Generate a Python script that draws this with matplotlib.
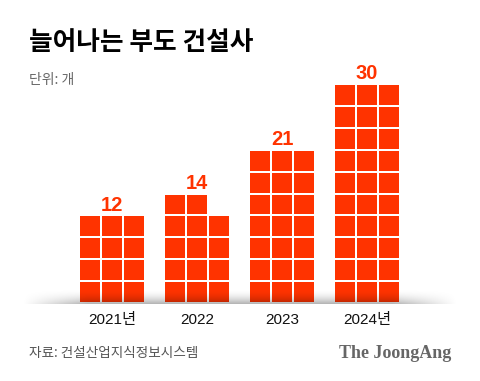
import numpy as np
import matplotlib
matplotlib.use('Agg')
import matplotlib.pyplot as plt

plt.rcParams['font.family'] = ['Noto Sans CJK KR', 'DejaVu Sans']

#data
years = ['2021년', '2022', '2023', '2024년']
counts = [12, 14, 21, 30]

red = '#ff3300'
W, H = 480, 381

fig = plt.figure(figsize=(W/100, H/100), dpi=100)
fig.patch.set_facecolor('white')

#main axes: x in category units (85 px apart, first at 112 px), y in block rows (22 px each)
base = 304
row_px = 21.9
top_px = 40
ax = fig.add_axes([0, (H-base)/H, 1, (base-top_px)/H])
ax.set_xlim(-112/85, (W-112)/85)
ax.set_ylim(0, (base-top_px)/row_px)
ax.axis('off')

pitch = 22/85
bw = 20/85
for i, v in enumerate(counts):
    k = np.arange(v)
    rows = k // 3
    cols = k % 3
    ax.bar(i + (cols-1)*pitch, 20/22, width=bw, bottom=rows + 2/22,
           color=red, edgecolor='none', align='center')
    ax.text(i, rows.max() + 1 + 0.08, str(v), ha='center', va='bottom',
            color=red, fontsize=14.5, fontweight='bold', family=['Liberation Sans', 'DejaVu Sans'])

#overlay in pixel coords for text and shadow
ov = fig.add_axes([0, 0, 1, 1], facecolor='none')
ov.set_xlim(0, W)
ov.set_ylim(H, 0)
ov.axis('off')

#shadow under baseline
xs = np.linspace(0, 1, 200)
ys = np.linspace(0, 1, 30)
ax_fade = np.clip(np.minimum(xs/0.15, (1-xs)/0.15), 0, 1)
ay_fade = ys**2
alpha = np.outer(ay_fade, ax_fade) * 0.3
img = np.zeros((30, 200, 4))
img[..., 3] = alpha
ov.imshow(img, extent=[22, 458, base+0.5, 289], aspect='auto', zorder=5)

for i, y in enumerate(years):
    px = 112 + 85*i
    ov.text(px, 320, y, ha='center', va='center', fontsize=11, color='#111111',
            family=['Liberation Sans', 'Noto Sans CJK KR'])

ov.text(29, 42, '늘어나는 부도 건설사', ha='left', va='center', fontsize=18.5,
        fontweight='heavy', color='#000000')
ov.text(29, 80, '단위: 개', ha='left', va='center', fontsize=10, color='#666666')
ov.text(29, 353, '자료: 건설산업지식정보시스템', ha='left', va='center', fontsize=9.8, color='#555555')
ov.text(451, 353, 'The JoongAng', ha='right', va='center', fontsize=13, fontweight='bold',
        color='#666666', family='Liberation Serif')

plt.savefig('out.png', dpi=100)
